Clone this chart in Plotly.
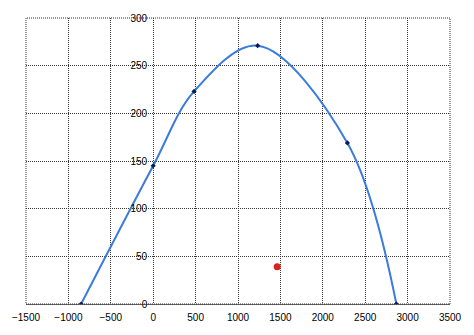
import plotly.graph_objects as go

curve_x = [-850, 0, 482, 1232, 2290, 2868]
curve_y = [0, 145, 223, 271, 169, 0]
red_x = [1462]
red_y = [39]
x_ticks = [-1500, -1000, -500, 0, 500, 1000, 1500, 2000, 2500, 3000, 3500]
y_ticks = [0, 50, 100, 150, 200, 250, 300]

fig = go.Figure()
fig.add_trace(go.Scatter(x=curve_x, y=curve_y, mode="lines",
                         line=dict(color="#3a7bdc", width=2, shape="spline", smoothing=1.0),
                         hoverinfo="skip"))
fig.add_trace(go.Scatter(x=curve_x, y=curve_y, mode="markers",
                         marker=dict(color="#0a1a5c", size=4, symbol="diamond")))
fig.add_trace(go.Scatter(x=red_x, y=red_y, mode="markers",
                         marker=dict(color="#e02020", size=7)))

grid = dict(showgrid=True, gridcolor="#333333", griddash="1px,1px", gridwidth=1)
fig.update_layout(
    width=474, height=335,
    margin=dict(l=24, r=23, t=17, b=30),
    paper_bgcolor="white", plot_bgcolor="white",
    showlegend=False,
    font=dict(family="Liberation Sans, Arial", size=10, color="#000000"),
    xaxis=dict(range=[-1500, 3500], tickvals=x_ticks, zeroline=False,
               showline=True, linecolor="#666666", linewidth=1, mirror=False,
               ticks="", domain=[0, 1], ticklabelstandoff=4, **grid),
    yaxis=dict(range=[0, 300], tickvals=y_ticks, zeroline=False,
               anchor="free", position=0.3, ticks="", showline=False,
               ticklabelstandoff=6, **grid),
    shapes=[dict(type="rect", xref="paper", yref="paper", x0=0, y0=0, x1=1, y1=1,
                 line=dict(color="#333333", width=1, dash="1px,1px"))],
)
fig.write_html("out.html")
